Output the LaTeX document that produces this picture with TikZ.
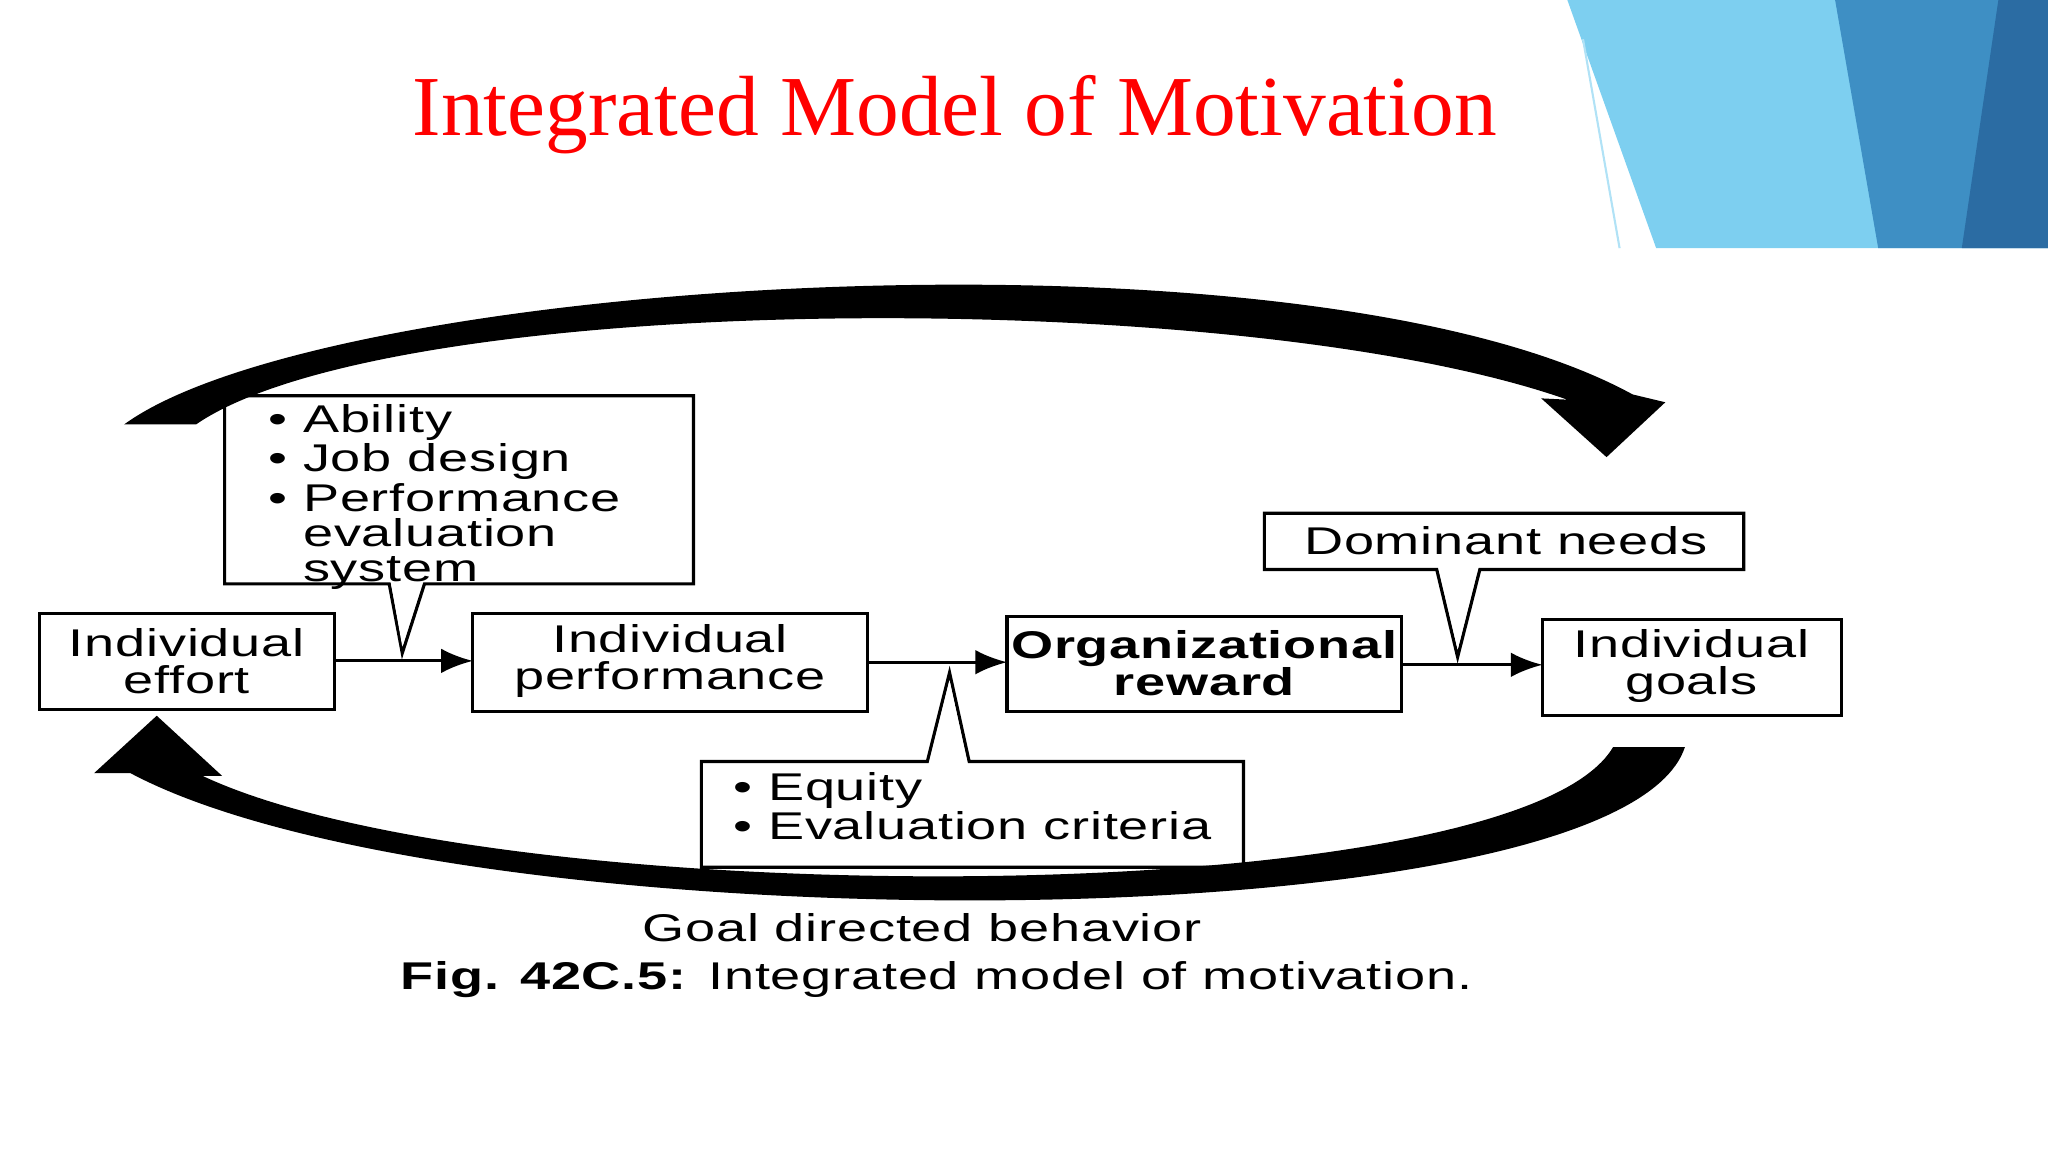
\documentclass[tikz,border=0pt]{standalone}
\usepackage{fontspec}
\setmainfont{Liberation Sans}
\newfontfamily\wide[FakeStretch=1.4,LetterSpace=2]{Liberation Sans}
\newfontfamily\titlefont{Liberation Serif}
\usetikzlibrary{arrows.meta}
\definecolor{decA}{HTML}{7DCFF0}
\definecolor{decB}{HTML}{3E8FC4}
\definecolor{decC}{HTML}{2B6CA3}
\begin{document}
\begin{tikzpicture}[x=0.01306cm,y=-0.01306cm,
  bx/.style={draw,line width=0.9pt,inner sep=0pt},
  lbl/.style={font=\wide\fontsize{11}{10.5}\selectfont,align=center},
  arr/.style={line width=0.9pt,-{Latex[length=9pt,width=7pt]}}]
\useasboundingbox (0,0) rectangle (1568,882);
% decor
\fill[decA] (1200,0) -- (1568,0) -- (1568,190) -- (1268,190) -- cycle;
\fill[decB] (1405,0) -- (1568,0) -- (1568,190) -- (1438,190) -- cycle;
\fill[decC] (1530,0) -- (1568,0) -- (1568,190) -- (1502,190) -- cycle;
\draw[decA!60!white,line width=0.6pt] (1212,30) -- (1240,190);
\node[text=red,font=\titlefont\fontsize{24.3}{28}\selectfont] (title) at (731,88) {Integrated Model of Motivation};
% boxes
\draw[bx] (30,470) rectangle (256,543); \node[lbl] (eff) at (143,506) {Individual\\effort};
\draw[bx] (362,470) rectangle (664,545); \node[lbl] (perf) at (513,506) {Individual\\performance};
\draw[bx] (771,472) rectangle (1073,545); \node[lbl,font=\wide\bfseries\fontsize{11}{10.5}\selectfont] (rew) at (922,508) {Organizational\\reward};
\draw[bx] (1181,474) rectangle (1410,548); \node[lbl] (goal) at (1295,510) {Individual\\goals};
\coordinate (e1) at (256,506); \coordinate (p0) at (362,506);
\coordinate (p1) at (664,507); \coordinate (r0) at (771,507);
\coordinate (r1) at (1073,509); \coordinate (g0) at (1181,509);
\draw[arr] (e1) -- (p0); \draw[arr] (p1) -- (r0); \draw[arr] (r1) -- (g0);
% callouts
\draw[line width=0.9pt] (298,447) -- (172,447) -- (172,303) -- (531,303) -- (531,447) -- (325,447) -- (308,500) -- cycle;
\fill[white] (299,444) -- (324,444) -- (308,495) -- cycle;
\node[font=\wide\fontsize{11}{10}\selectfont,align=left,anchor=north west] (abil) at (196,300) {• Ability\\• Job design\\• Performance\\\phantom{•} evaluation\\\phantom{•} system};
\draw[line width=0.9pt] (1100,436) -- (968,436) -- (968,393) -- (1335,393) -- (1335,436) -- (1133,436) -- (1116,503) -- cycle;
\fill[white] (1101,433) -- (1132,433) -- (1116,497) -- cycle;
\node[lbl] (dom) at (1153,414) {Dominant needs};
\draw[line width=0.9pt] (710,583) -- (537,583) -- (537,664) -- (952,664) -- (952,583) -- (742,583) -- (727,515) -- cycle;
\fill[white] (711,586) -- (741,586) -- (727,521) -- cycle;
\node[font=\wide\fontsize{11}{11}\selectfont,align=left,anchor=north west] (eq) at (552,582) {• Equity\\• Evaluation criteria};
% big arcs
\fill (95,325) .. controls (250,212) and (1000,165) .. (1250,302)
  -- (1275,308) -- (1230,350) -- (1180,305) -- (1200,306)
  .. controls (950,218) and (300,222) .. (150,325) -- cycle;
\fill (1290,572) .. controls (1240,725) and (350,725) .. (100,592)
  -- (72,592) -- (120,548) -- (170,594) -- (155,594)
  .. controls (380,700) and (1160,700) .. (1235,572) -- cycle;
\node[font=\wide\fontsize{11}{14}\selectfont] (gdb) at (706,710) {Goal directed behavior};
\node[font=\wide\fontsize{11}{14}\selectfont] (cap) at (717,750) {\textbf{Fig. 42C.5:} Integrated model of motivation.};
\end{tikzpicture}
\end{document}
